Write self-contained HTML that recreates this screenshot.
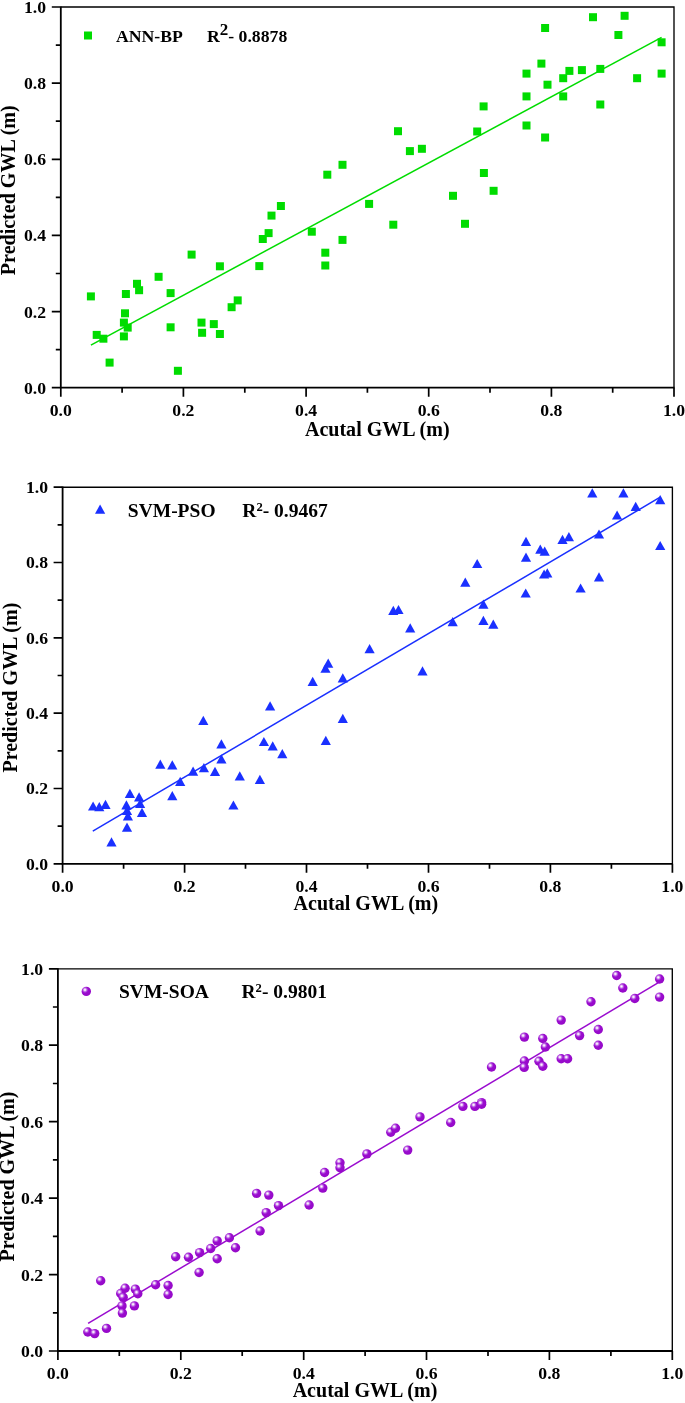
<!DOCTYPE html>
<html lang="en"><head><meta charset="utf-8"><title>GWL prediction scatter plots</title>
<style>html,body{margin:0;padding:0;background:#fff}svg{display:block}</style></head>
<body>
<svg width="685" height="1403" viewBox="0 0 685 1403">
<defs><radialGradient id="sph" cx="0.36" cy="0.33" r="0.62" fx="0.36" fy="0.33"><stop offset="0" stop-color="#ffffff"/><stop offset="0.14" stop-color="#f0dcf8"/><stop offset="0.34" stop-color="#b858e2"/><stop offset="0.55" stop-color="#9a0ccf"/><stop offset="1" stop-color="#960ac8"/></radialGradient></defs>
<rect width="685" height="1403" fill="#fff"/>
<g>
<path d="M60.8 7.0H674.0V387.7" fill="none" stroke="#000" stroke-width="1.35"/>
<path d="M60.8 6.4V387.7H674.6" fill="none" stroke="#000" stroke-width="1.8" stroke-linejoin="miter"/>
<path d="M60.8 387.7h-9.0M60.8 387.7v9.0M60.8 349.6h-5.0M122.1 387.7v5.0M60.8 311.6h-9.0M183.4 387.7v9.0M60.8 273.5h-5.0M244.8 387.7v5.0M60.8 235.4h-9.0M306.1 387.7v9.0M60.8 197.3h-5.0M367.4 387.7v5.0M60.8 159.3h-9.0M428.7 387.7v9.0M60.8 121.2h-5.0M490.0 387.7v5.0M60.8 83.1h-9.0M551.4 387.7v9.0M60.8 45.1h-5.0M612.7 387.7v5.0M60.8 7.0h-9.0M674.0 387.7v9.0" fill="none" stroke="#000" stroke-width="1.7"/>
<g font-family="'Liberation Serif', serif" font-weight="bold" font-size="17.7" fill="#000">
<text x="46.0" y="393.6" text-anchor="end">0.0</text>
<text x="60.8" y="415.7" text-anchor="middle">0.0</text>
<text x="46.0" y="317.5" text-anchor="end">0.2</text>
<text x="183.4" y="415.7" text-anchor="middle">0.2</text>
<text x="46.0" y="241.3" text-anchor="end">0.4</text>
<text x="306.1" y="415.7" text-anchor="middle">0.4</text>
<text x="46.0" y="165.2" text-anchor="end">0.6</text>
<text x="428.7" y="415.7" text-anchor="middle">0.6</text>
<text x="46.0" y="89.0" text-anchor="end">0.8</text>
<text x="551.4" y="415.7" text-anchor="middle">0.8</text>
<text x="46.0" y="12.9" text-anchor="end">1.0</text>
<text x="674.0" y="415.7" text-anchor="middle">1.0</text>
</g>
<g font-family="'Liberation Serif', serif" font-weight="bold" font-size="20.05" fill="#000">
<text x="377.3" y="435.6" text-anchor="middle">Acutal GWL (m)</text>
<text transform="translate(14.6 190.2) rotate(-90)" text-anchor="middle">Predicted GWL (m)</text>
</g>
<line x1="90.9" y1="345.1" x2="661.6" y2="37.3" stroke="#00dc00" stroke-width="1.5"/>
<g fill="#00dc00">
<rect x="86.9" y="292.4" width="8.0" height="8.0"/>
<rect x="92.7" y="330.9" width="8.0" height="8.0"/>
<rect x="99.4" y="334.7" width="8.0" height="8.0"/>
<rect x="105.6" y="358.6" width="8.0" height="8.0"/>
<rect x="121.9" y="290.0" width="8.0" height="8.0"/>
<rect x="121.0" y="309.3" width="8.0" height="8.0"/>
<rect x="119.9" y="318.6" width="8.0" height="8.0"/>
<rect x="123.7" y="323.6" width="8.0" height="8.0"/>
<rect x="119.9" y="332.4" width="8.0" height="8.0"/>
<rect x="133.0" y="279.8" width="8.0" height="8.0"/>
<rect x="135.1" y="286.2" width="8.0" height="8.0"/>
<rect x="154.6" y="272.8" width="8.0" height="8.0"/>
<rect x="166.6" y="289.1" width="8.0" height="8.0"/>
<rect x="166.6" y="323.3" width="8.0" height="8.0"/>
<rect x="173.9" y="366.8" width="8.0" height="8.0"/>
<rect x="187.6" y="250.6" width="8.0" height="8.0"/>
<rect x="197.5" y="318.6" width="8.0" height="8.0"/>
<rect x="198.1" y="328.8" width="8.0" height="8.0"/>
<rect x="209.8" y="320.1" width="8.0" height="8.0"/>
<rect x="215.9" y="330.0" width="8.0" height="8.0"/>
<rect x="215.9" y="262.3" width="8.0" height="8.0"/>
<rect x="227.6" y="303.2" width="8.0" height="8.0"/>
<rect x="233.7" y="296.4" width="8.0" height="8.0"/>
<rect x="255.3" y="262.1" width="8.0" height="8.0"/>
<rect x="258.8" y="235.0" width="8.0" height="8.0"/>
<rect x="264.6" y="229.1" width="8.0" height="8.0"/>
<rect x="267.5" y="211.6" width="8.0" height="8.0"/>
<rect x="276.9" y="202.0" width="8.0" height="8.0"/>
<rect x="307.8" y="227.7" width="8.0" height="8.0"/>
<rect x="321.3" y="248.7" width="8.0" height="8.0"/>
<rect x="321.3" y="261.5" width="8.0" height="8.0"/>
<rect x="323.3" y="170.7" width="8.0" height="8.0"/>
<rect x="338.5" y="160.8" width="8.0" height="8.0"/>
<rect x="338.5" y="235.9" width="8.0" height="8.0"/>
<rect x="365.1" y="199.9" width="8.0" height="8.0"/>
<rect x="389.3" y="220.7" width="8.0" height="8.0"/>
<rect x="394.0" y="127.2" width="8.0" height="8.0"/>
<rect x="405.9" y="147.1" width="8.0" height="8.0"/>
<rect x="417.9" y="144.8" width="8.0" height="8.0"/>
<rect x="449.0" y="191.8" width="8.0" height="8.0"/>
<rect x="461.0" y="219.8" width="8.0" height="8.0"/>
<rect x="473.2" y="127.5" width="8.0" height="8.0"/>
<rect x="479.6" y="102.4" width="8.0" height="8.0"/>
<rect x="479.9" y="169.0" width="8.0" height="8.0"/>
<rect x="489.6" y="186.8" width="8.0" height="8.0"/>
<rect x="522.5" y="69.6" width="8.0" height="8.0"/>
<rect x="522.5" y="92.4" width="8.0" height="8.0"/>
<rect x="522.5" y="121.5" width="8.0" height="8.0"/>
<rect x="537.4" y="59.6" width="8.0" height="8.0"/>
<rect x="541.1" y="24.0" width="8.0" height="8.0"/>
<rect x="541.1" y="133.5" width="8.0" height="8.0"/>
<rect x="543.5" y="80.7" width="8.0" height="8.0"/>
<rect x="559.2" y="74.2" width="8.0" height="8.0"/>
<rect x="559.2" y="92.4" width="8.0" height="8.0"/>
<rect x="565.4" y="66.9" width="8.0" height="8.0"/>
<rect x="577.9" y="66.1" width="8.0" height="8.0"/>
<rect x="589.0" y="13.2" width="8.0" height="8.0"/>
<rect x="596.3" y="64.9" width="8.0" height="8.0"/>
<rect x="596.3" y="100.5" width="8.0" height="8.0"/>
<rect x="614.4" y="31.0" width="8.0" height="8.0"/>
<rect x="620.6" y="11.8" width="8.0" height="8.0"/>
<rect x="633.1" y="74.2" width="8.0" height="8.0"/>
<rect x="657.6" y="38.3" width="8.0" height="8.0"/>
<rect x="657.6" y="69.6" width="8.0" height="8.0"/>
<rect x="84.0" y="31.5" width="8.0" height="8.0"/>
</g>
<g font-family="'Liberation Serif', serif" font-weight="bold" font-size="17.7" fill="#000">
<text x="116.0" y="42.3">ANN-BP</text>
<text x="207.0" y="42.3">R</text>
<text x="219.8" y="34.6" font-size="17">2</text>
<text x="228.3" y="42.3">- 0.8878</text>
</g>
</g>
<g>
<path d="M62.6 487.2H672.4V863.8" fill="none" stroke="#000" stroke-width="1.35"/>
<path d="M62.6 486.6V863.8H673.0" fill="none" stroke="#000" stroke-width="1.8" stroke-linejoin="miter"/>
<path d="M62.6 863.8h-9.0M62.6 863.8v9.0M62.6 826.1h-5.0M123.6 863.8v5.0M62.6 788.5h-9.0M184.6 863.8v9.0M62.6 750.8h-5.0M245.5 863.8v5.0M62.6 713.2h-9.0M306.5 863.8v9.0M62.6 675.5h-5.0M367.5 863.8v5.0M62.6 637.8h-9.0M428.5 863.8v9.0M62.6 600.2h-5.0M489.5 863.8v5.0M62.6 562.5h-9.0M550.4 863.8v9.0M62.6 524.9h-5.0M611.4 863.8v5.0M62.6 487.2h-9.0M672.4 863.8v9.0" fill="none" stroke="#000" stroke-width="1.7"/>
<g font-family="'Liberation Serif', serif" font-weight="bold" font-size="17.7" fill="#000">
<text x="48.0" y="869.7" text-anchor="end">0.0</text>
<text x="62.6" y="891.6" text-anchor="middle">0.0</text>
<text x="48.0" y="794.4" text-anchor="end">0.2</text>
<text x="184.6" y="891.6" text-anchor="middle">0.2</text>
<text x="48.0" y="719.1" text-anchor="end">0.4</text>
<text x="306.5" y="891.6" text-anchor="middle">0.4</text>
<text x="48.0" y="643.7" text-anchor="end">0.6</text>
<text x="428.5" y="891.6" text-anchor="middle">0.6</text>
<text x="48.0" y="568.4" text-anchor="end">0.8</text>
<text x="550.4" y="891.6" text-anchor="middle">0.8</text>
<text x="48.0" y="493.1" text-anchor="end">1.0</text>
<text x="672.4" y="891.6" text-anchor="middle">1.0</text>
</g>
<g font-family="'Liberation Serif', serif" font-weight="bold" font-size="20.05" fill="#000">
<text x="365.9" y="909.6" text-anchor="middle">Acutal GWL (m)</text>
<text transform="translate(16.9 687.6) rotate(-90)" text-anchor="middle">Predicted GWL (m)</text>
</g>
<line x1="92.8" y1="831.1" x2="660.2" y2="497.2" stroke="#1a30ff" stroke-width="1.5"/>
<g fill="#1a30ff">
<path d="M93.1 801.4L98.2 810.6H88.0Z"/>
<path d="M99.3 802.0L104.4 811.2H94.2Z"/>
<path d="M105.5 799.8L110.6 809.0H100.4Z"/>
<path d="M111.5 837.3L116.6 846.5H106.4Z"/>
<path d="M127.0 822.6L132.1 831.8H121.9Z"/>
<path d="M129.9 788.7L135.0 797.9H124.8Z"/>
<path d="M126.4 800.2L131.5 809.4H121.3Z"/>
<path d="M127.0 805.8L132.1 815.0H121.9Z"/>
<path d="M127.9 811.3L133.0 820.5H122.8Z"/>
<path d="M139.1 792.2L144.2 801.4H134.0Z"/>
<path d="M140.1 798.9L145.2 808.1H135.0Z"/>
<path d="M142.0 807.7L147.1 816.9H136.9Z"/>
<path d="M172.3 791.0L177.4 800.2H167.2Z"/>
<path d="M160.3 759.6L165.4 768.8H155.2Z"/>
<path d="M172.3 760.2L177.4 769.4H167.2Z"/>
<path d="M180.2 776.7L185.3 785.9H175.1Z"/>
<path d="M193.1 766.5L198.2 775.7H188.0Z"/>
<path d="M203.3 715.7L208.4 724.9H198.2Z"/>
<path d="M203.9 763.0L209.0 772.2H198.8Z"/>
<path d="M215.0 766.8L220.1 776.0H209.9Z"/>
<path d="M221.4 739.3L226.5 748.5H216.3Z"/>
<path d="M221.4 754.2L226.5 763.4H216.3Z"/>
<path d="M233.4 800.4L238.5 809.6H228.3Z"/>
<path d="M239.8 771.2L244.9 780.4H234.7Z"/>
<path d="M259.9 774.8L265.0 784.0H254.8Z"/>
<path d="M263.9 736.9L269.0 746.1H258.8Z"/>
<path d="M272.7 741.2L277.8 750.4H267.6Z"/>
<path d="M282.3 749.1L287.4 758.3H277.2Z"/>
<path d="M270.1 701.2L275.2 710.4H265.0Z"/>
<path d="M312.7 676.7L317.8 685.9H307.6Z"/>
<path d="M325.8 735.7L330.9 744.9H320.7Z"/>
<path d="M325.5 663.6L330.6 672.8H320.4Z"/>
<path d="M328.2 658.6L333.3 667.8H323.1Z"/>
<path d="M342.8 673.2L347.9 682.4H337.7Z"/>
<path d="M342.8 713.8L347.9 723.0H337.7Z"/>
<path d="M369.6 644.0L374.7 653.2H364.5Z"/>
<path d="M393.3 605.8L398.4 615.0H388.2Z"/>
<path d="M398.5 604.9L403.6 614.1H393.4Z"/>
<path d="M410.2 623.3L415.3 632.5H405.1Z"/>
<path d="M422.5 666.2L427.6 675.4H417.4Z"/>
<path d="M452.7 617.0L457.8 626.2H447.6Z"/>
<path d="M465.3 577.6L470.4 586.8H460.2Z"/>
<path d="M477.2 558.9L482.3 568.1H472.1Z"/>
<path d="M483.4 599.5L488.5 608.7H478.3Z"/>
<path d="M483.4 615.8L488.5 625.0H478.3Z"/>
<path d="M493.3 619.6L498.4 628.8H488.2Z"/>
<path d="M526.0 536.7L531.1 545.9H520.9Z"/>
<path d="M526.0 552.5L531.1 561.7H520.9Z"/>
<path d="M525.7 588.4L530.8 597.6H520.6Z"/>
<path d="M540.3 544.6L545.4 553.8H535.2Z"/>
<path d="M544.7 546.6L549.8 555.8H539.6Z"/>
<path d="M544.1 569.4L549.2 578.6H539.0Z"/>
<path d="M547.3 568.2L552.4 577.4H542.2Z"/>
<path d="M562.5 534.7L567.6 543.9H557.4Z"/>
<path d="M568.9 532.0L574.0 541.2H563.8Z"/>
<path d="M580.6 583.4L585.7 592.6H575.5Z"/>
<path d="M592.3 488.2L597.4 497.4H587.2Z"/>
<path d="M599.0 529.4L604.1 538.6H593.9Z"/>
<path d="M599.0 572.3L604.1 581.5H593.9Z"/>
<path d="M617.1 510.4L622.2 519.6H612.0Z"/>
<path d="M623.4 488.2L628.5 497.4H618.3Z"/>
<path d="M660.2 495.1L665.3 504.3H655.1Z"/>
<path d="M635.7 501.7L640.8 510.9H630.6Z"/>
<path d="M660.2 540.9L665.3 550.1H655.1Z"/>
<path d="M100.1 504.5L105.2 513.7H95.0Z"/>
</g>
<g font-family="'Liberation Serif', serif" font-weight="bold" font-size="19.5" fill="#000">
<text x="127.8" y="517.4">SVM-PSO</text>
<text x="242.3" y="517.4">R</text>
<text x="256.4" y="511.4" font-size="12.6">2</text>
<text x="262.7" y="517.4">- 0.9467</text>
</g>
</g>
<g>
<path d="M57.9 968.8H672.3V1351.0" fill="none" stroke="#000" stroke-width="1.35"/>
<path d="M57.9 968.2V1351.0H672.9" fill="none" stroke="#000" stroke-width="1.8" stroke-linejoin="miter"/>
<path d="M57.9 1351.0h-9.0M57.9 1351.0v9.0M57.9 1312.8h-5.0M119.3 1351.0v5.0M57.9 1274.6h-9.0M180.8 1351.0v9.0M57.9 1236.3h-5.0M242.2 1351.0v5.0M57.9 1198.1h-9.0M303.7 1351.0v9.0M57.9 1159.9h-5.0M365.1 1351.0v5.0M57.9 1121.7h-9.0M426.5 1351.0v9.0M57.9 1083.5h-5.0M488.0 1351.0v5.0M57.9 1045.2h-9.0M549.4 1351.0v9.0M57.9 1007.0h-5.0M610.9 1351.0v5.0M57.9 968.8h-9.0M672.3 1351.0v9.0" fill="none" stroke="#000" stroke-width="1.7"/>
<g font-family="'Liberation Serif', serif" font-weight="bold" font-size="17.7" fill="#000">
<text x="43.2" y="1356.9" text-anchor="end">0.0</text>
<text x="57.9" y="1378.7" text-anchor="middle">0.0</text>
<text x="43.2" y="1280.5" text-anchor="end">0.2</text>
<text x="180.8" y="1378.7" text-anchor="middle">0.2</text>
<text x="43.2" y="1204.0" text-anchor="end">0.4</text>
<text x="303.7" y="1378.7" text-anchor="middle">0.4</text>
<text x="43.2" y="1127.6" text-anchor="end">0.6</text>
<text x="426.5" y="1378.7" text-anchor="middle">0.6</text>
<text x="43.2" y="1051.1" text-anchor="end">0.8</text>
<text x="549.4" y="1378.7" text-anchor="middle">0.8</text>
<text x="43.2" y="974.7" text-anchor="end">1.0</text>
<text x="672.3" y="1378.7" text-anchor="middle">1.0</text>
</g>
<g font-family="'Liberation Serif', serif" font-weight="bold" font-size="20.05" fill="#000">
<text x="365.0" y="1397.3" text-anchor="middle">Acutal GWL (m)</text>
<text transform="translate(14.3 1176.5) rotate(-90)" text-anchor="middle">Predicted GWL (m)</text>
</g>
<line x1="88.1" y1="1323.4" x2="659.6" y2="981.9" stroke="#9a0ccf" stroke-width="1.5"/>
<g fill="url(#sph)">
<circle cx="87.8" cy="1332.0" r="4.7"/>
<circle cx="94.7" cy="1333.6" r="4.7"/>
<circle cx="106.5" cy="1328.4" r="4.7"/>
<circle cx="100.7" cy="1280.7" r="4.7"/>
<circle cx="125.1" cy="1288.2" r="4.7"/>
<circle cx="120.7" cy="1293.5" r="4.7"/>
<circle cx="123.2" cy="1297.4" r="4.7"/>
<circle cx="122.0" cy="1305.9" r="4.7"/>
<circle cx="122.4" cy="1313.1" r="4.7"/>
<circle cx="135.3" cy="1289.1" r="4.7"/>
<circle cx="137.8" cy="1293.8" r="4.7"/>
<circle cx="134.4" cy="1305.9" r="4.7"/>
<circle cx="155.6" cy="1284.7" r="4.7"/>
<circle cx="168.1" cy="1285.5" r="4.7"/>
<circle cx="168.1" cy="1294.5" r="4.7"/>
<circle cx="175.7" cy="1256.7" r="4.7"/>
<circle cx="188.5" cy="1257.3" r="4.7"/>
<circle cx="199.1" cy="1272.5" r="4.7"/>
<circle cx="199.6" cy="1252.6" r="4.7"/>
<circle cx="210.7" cy="1248.5" r="4.7"/>
<circle cx="217.2" cy="1240.9" r="4.7"/>
<circle cx="217.2" cy="1258.8" r="4.7"/>
<circle cx="229.4" cy="1237.7" r="4.7"/>
<circle cx="235.5" cy="1247.7" r="4.7"/>
<circle cx="256.6" cy="1193.4" r="4.7"/>
<circle cx="260.1" cy="1231.0" r="4.7"/>
<circle cx="268.8" cy="1195.1" r="4.7"/>
<circle cx="266.2" cy="1212.6" r="4.7"/>
<circle cx="278.5" cy="1205.6" r="4.7"/>
<circle cx="309.1" cy="1205.0" r="4.7"/>
<circle cx="322.8" cy="1188.1" r="4.7"/>
<circle cx="324.6" cy="1172.5" r="4.7"/>
<circle cx="340.0" cy="1162.7" r="4.7"/>
<circle cx="340.0" cy="1167.7" r="4.7"/>
<circle cx="366.9" cy="1153.9" r="4.7"/>
<circle cx="390.8" cy="1132.3" r="4.7"/>
<circle cx="395.5" cy="1128.2" r="4.7"/>
<circle cx="407.7" cy="1150.1" r="4.7"/>
<circle cx="420.0" cy="1116.9" r="4.7"/>
<circle cx="450.7" cy="1122.5" r="4.7"/>
<circle cx="462.9" cy="1106.4" r="4.7"/>
<circle cx="474.9" cy="1106.4" r="4.7"/>
<circle cx="481.6" cy="1102.6" r="4.7"/>
<circle cx="481.6" cy="1104.2" r="4.7"/>
<circle cx="491.5" cy="1067.0" r="4.7"/>
<circle cx="524.4" cy="1037.1" r="4.7"/>
<circle cx="524.4" cy="1061.0" r="4.7"/>
<circle cx="524.2" cy="1067.4" r="4.7"/>
<circle cx="539.0" cy="1061.3" r="4.7"/>
<circle cx="542.8" cy="1038.5" r="4.7"/>
<circle cx="545.4" cy="1047.0" r="4.7"/>
<circle cx="542.8" cy="1066.3" r="4.7"/>
<circle cx="561.2" cy="1020.1" r="4.7"/>
<circle cx="561.2" cy="1058.7" r="4.7"/>
<circle cx="567.6" cy="1058.7" r="4.7"/>
<circle cx="579.6" cy="1035.6" r="4.7"/>
<circle cx="591.0" cy="1001.8" r="4.7"/>
<circle cx="598.3" cy="1029.5" r="4.7"/>
<circle cx="598.3" cy="1045.3" r="4.7"/>
<circle cx="616.7" cy="975.5" r="4.7"/>
<circle cx="622.8" cy="988.0" r="4.7"/>
<circle cx="634.8" cy="998.5" r="4.7"/>
<circle cx="659.6" cy="979.0" r="4.7"/>
<circle cx="659.6" cy="997.1" r="4.7"/>
<circle cx="86.3" cy="991.4" r="4.7"/>
</g>
<g font-family="'Liberation Serif', serif" font-weight="bold" font-size="19.5" fill="#000">
<text x="119.0" y="998.0">SVM-SOA</text>
<text x="241.5" y="998.0">R</text>
<text x="255.6" y="992.0" font-size="12.6">2</text>
<text x="261.9" y="998.0">- 0.9801</text>
</g>
</g>
</svg>
</body></html>
